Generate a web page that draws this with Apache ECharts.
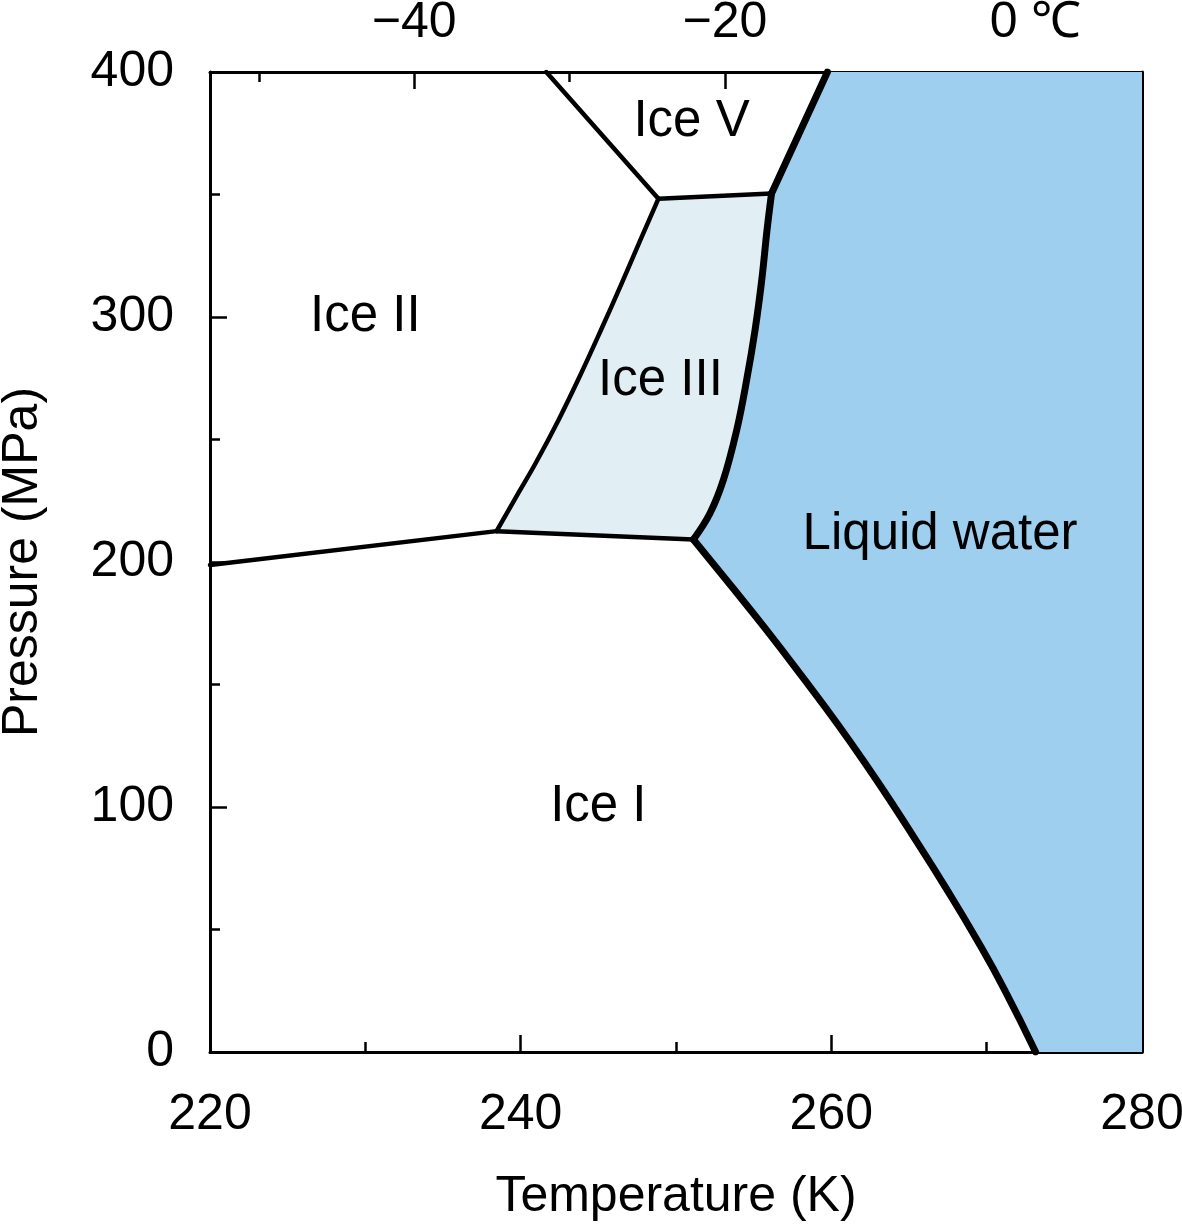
<!DOCTYPE html>
<html><head><meta charset="utf-8">
<script src="https://cdn.jsdelivr.net/npm/echarts@6/dist/echarts.min.js"></script>
<style>html,body{margin:0;padding:0;background:#fff}#c{width:1182px;height:1224px}</style>
</head><body><div id="c"></div>
<script>
// Phase boundaries: [temperature K, pressure MPa]
const iceIMelting = [[273.15,0],[271.16,25.3],[269.38,45.7],[267.34,67.3],[265.3,87.8],[264.06,100],[262.47,115.1],[260.35,134.3],[258.14,153.1],[255.83,172.2],[253.61,189.8],[251.12,209.2]];
const iceIIIMelting = [[251.12,209.2],[252.19,219.9],[253.05,233.5],[253.91,253.9],[254.55,274.3],[255.09,294.7],[255.52,315.1],[255.86,335.5],[256.15,350.4]];
const iceVMelting = [[256.15,350.4],[259.75,400]];
const iceII_III = [[238.45,212.6],[239.72,226.7],[240.96,240.3],[242.44,258],[243.79,275.6],[245.17,294.7],[246.51,313.8],[247.8,332.8],[248.87,348.3]];
const iceIII_V = [[248.87,348.3],[256.15,350.4]];
const iceII_V = [[248.87,348.3],[241.65,400]];
const iceI_III = [[238.45,212.6],[251.12,209.2]];
const iceI_II = [[220,198.8],[238.45,212.6]];
const corners = [[280,400],[280,0]];

const regionNames = ['Ice V','Ice II','Ice III','Liquid water','Ice I'];
const regionAt = [[251,379.6],[230,300],[249,274],[267,211],[245,100]];

const celsiusMajor = [-40,-20,0];
const celsiusMinor = [-50,-30,-10];
const celsiusLabels = ['\u221240','\u221220','0 \u2103'];

const liquidPoly = iceIMelting.concat(iceIIIMelting.slice(1), iceVMelting.slice(1), corners);
const iceIIIPoly = iceII_III.concat(iceIII_V.slice(1), iceIIIMelting.slice().reverse().slice(1));

const FONT = '"Liberation Sans", Arial, Helvetica, sans-serif';
const black = '#000';

function polySeries(pts, color){
  return {
    type:'custom', silent:true, z:1, xAxisIndex:0, yAxisIndex:0,
    data:[0],
    renderItem:function(params, api){
      return {type:'polygon', shape:{points: pts.map(p=>api.coord(p))}, style:{fill:color, stroke:null}};
    }
  };
}
function lineSeries(pts, w, smooth){
  return {type:'line', data:pts, showSymbol:false, symbol:'none', silent:true, z:3,
    xAxisIndex:0, yAxisIndex:0, smooth:smooth || false,
    lineStyle:{color:black, width:w, cap:'round', join:'round'}};
}

const chart = echarts.init(document.getElementById('c'), null, {renderer:'canvas'});
const tickStyle = {color:black, width:2.5};
const lineAx = {onZero:false, lineStyle:{color:black, width:3}};
chart.setOption({
  animation:false,
  backgroundColor:'#fff',
  textStyle:{fontFamily:FONT},
  grid:{left:210, right:40, top:72, bottom:172, containLabel:false, outerBoundsMode:'none'},
  xAxis:[
    {type:'value', position:'bottom', min:220, max:280, interval:20,
     name:'Temperature (K)', nameLocation:'middle', nameGap:120,
     nameTextStyle:{fontSize:50, color:black, fontFamily:FONT},
     axisLine:lineAx,
     axisTick:{inside:true, length:17, lineStyle:tickStyle},
     minorTick:{show:true, splitNumber:2, length:10, lineStyle:tickStyle},
     axisLabel:{fontSize:50, color:black, margin:38, fontFamily:FONT},
     splitLine:{show:false}},
    {type:'value', position:'top', min:220-273.15, max:280-273.15,
     axisLine:lineAx,
     axisTick:{inside:true, length:17, lineStyle:tickStyle, customValues:celsiusMajor},
     axisLabel:{fontSize:50, color:black, margin:24, fontFamily:FONT, customValues:celsiusMajor,
       formatter:function(v){ const i = celsiusMajor.indexOf(Math.round(v)); return i>=0 ? celsiusLabels[i] : ''; }},
     splitLine:{show:false}},
    {type:'value', position:'top', min:220-273.15, max:280-273.15,
     axisLine:{show:false, onZero:false},
     axisTick:{inside:true, length:10, lineStyle:tickStyle, customValues:celsiusMinor},
     axisLabel:{show:false},
     splitLine:{show:false}}
  ],
  yAxis:[
    {type:'value', position:'left', min:0, max:400, interval:100,
     name:'Pressure (MPa)', nameLocation:'middle', nameGap:162, nameRotate:90,
     nameTextStyle:{fontSize:50, color:black, fontFamily:FONT},
     axisLine:lineAx,
     axisTick:{inside:true, length:17, lineStyle:tickStyle},
     minorTick:{show:true, splitNumber:2, length:10, lineStyle:tickStyle},
     axisLabel:{fontSize:50, color:black, margin:36, fontFamily:FONT},
     splitLine:{show:false}},
    {type:'value', position:'right', min:0, max:400, interval:100,
     axisLine:lineAx,
     axisTick:{inside:true, length:17, lineStyle:tickStyle},
     minorTick:{show:true, splitNumber:2, length:10, lineStyle:tickStyle},
     axisLabel:{show:false},
     splitLine:{show:false}}
  ],
  series:[
    polySeries(liquidPoly, '#9ecfee'),
    polySeries(iceIIIPoly, '#e1eff4'),
    lineSeries(iceI_II, 4.5),
    lineSeries(iceI_III, 4.5),
    lineSeries(iceII_III, 4.5, 0.4),
    lineSeries(iceIII_V, 4.5),
    lineSeries(iceII_V, 4.5),
    lineSeries(iceIMelting, 7, 0.5),
    lineSeries(iceIIIMelting, 7, 0.4),
    lineSeries(iceVMelting, 7),
    {type:'custom', silent:true, z:5, xAxisIndex:0, yAxisIndex:0,
     data:regionAt.map((p,i)=>[p[0], p[1], i]),
     renderItem:function(params, api){
       const pt = api.coord([api.value(0), api.value(1)]);
       return {type:'text', x:pt[0], y:pt[1], z2:10,
         style:{text:regionNames[api.value(2)], fill:black, font:'51px ' + FONT, align:'center', verticalAlign:'middle'}};
     }}
  ]
});
</script>
</body></html>
